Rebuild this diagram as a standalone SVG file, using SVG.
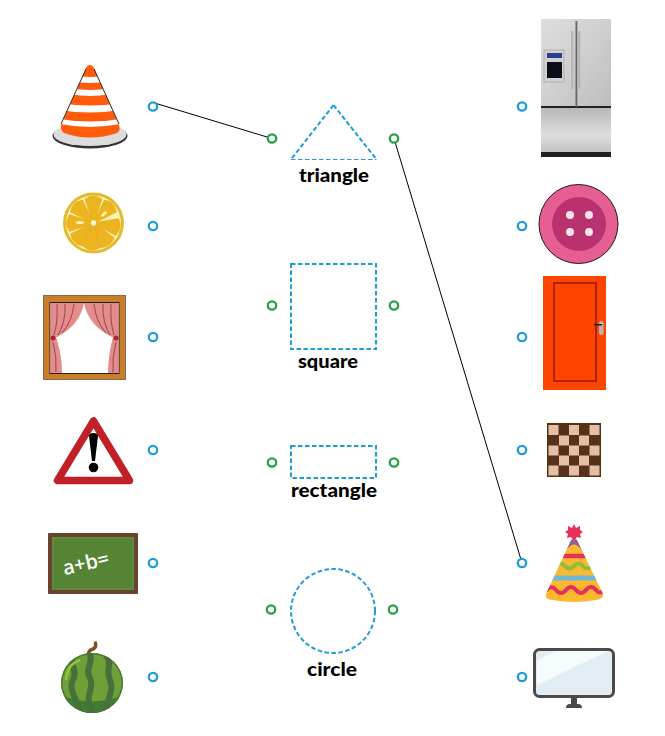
<svg xmlns="http://www.w3.org/2000/svg" width="665" height="736" viewBox="0 0 665 736">
<style>
.b{fill:#fff;stroke:#1f9cd8;stroke-width:2.300}
.g{fill:#fff;stroke:#27a04a;stroke-width:2.300}
.sh{fill:none;stroke:#1f9cd8;stroke-width:2;stroke-dasharray:4.500 2.500}
.lb{font-family:"Lato","Noto Sans",sans-serif;font-weight:900;font-size:18.500px;fill:#000;text-anchor:middle}
.cn{stroke:#000;stroke-width:1;fill:none}
</style>
<defs>
<linearGradient id="steel" x1="0" y1="0" x2="1" y2="1"><stop offset="0" stop-color="#dedede"/><stop offset=".5" stop-color="#cfcfcf"/><stop offset="1" stop-color="#bdbdbd"/></linearGradient>
<linearGradient id="steel2" x1="0" y1="0" x2="0" y2="1"><stop offset="0" stop-color="#b8b8b8"/><stop offset=".6" stop-color="#dedede"/><stop offset="1" stop-color="#c0c0c0"/></linearGradient>
<clipPath id="coneC"><path d="M90 65C87 65 86 68 85 70L61 125Q60 130 64 133Q90 142 117 133Q121 130 119 125L95 70C94 68 93 65 90 65Z"/></clipPath>
<clipPath id="melonC"><ellipse cx="92" cy="683" rx="31" ry="30"/></clipPath>
<clipPath id="hatC"><path d="M574 534L603 594Q604 599 596 600Q574 604 552 600Q544 599 546 594Z"/></clipPath>
</defs>

<g id="cone">
<ellipse cx="90" cy="136" rx="37.500" ry="12.500" fill="#333"/>
<ellipse cx="90" cy="134.500" rx="36.500" ry="11.500" fill="#dcdcdc"/>
<path d="M90 65C87 65 86 68 85 70L61 125Q60 130 64 133Q90 142 117 133Q121 130 119 125L95 70C94 68 93 65 90 65Z" fill="#ff5b0a"/>
<g clip-path="url(#coneC)" fill="#fff">
<path d="M70 75Q90 79 110 75L110 81Q90 85 70 81Z"/>
<path d="M70 88Q90 92 110 88L110 94Q90 98 70 94Z"/>
<path d="M60 103Q90 108 120 103L120 110Q90 115 60 110Z"/>
<path d="M55 118Q90 125 125 118L125 123Q90 131 55 123Z"/>
</g>
<path d="M86 69L61 124M94 69L119 124" stroke="#3a2a20" stroke-width="1" fill="none"/>
</g>

<g id="lemon">
<circle cx="93.500" cy="223" r="30.500" fill="#e2bb2c"/>
<circle cx="93.500" cy="223" r="27.500" fill="#fdf2b0"/>
<g fill="#ecb520" stroke="#d9a51c" stroke-width=".5">
<path d="M92 220L85 199Q93 193 102 199L95 220Z"/>
<path d="M92 220L85 199Q93 193 102 199L95 220Z" transform="rotate(45 93.500 223)"/>
<path d="M92 220L85 199Q93 193 102 199L95 220Z" transform="rotate(100 93.500 223)"/>
<path d="M92 220L85 199Q93 193 102 199L95 220Z" transform="rotate(145 93.500 223)"/>
<path d="M92 220L85 199Q93 193 102 199L95 220Z" transform="rotate(185 93.500 223)"/>
<path d="M92 220L85 199Q93 193 102 199L95 220Z" transform="rotate(225 93.500 223)"/>
<path d="M92 220L85 199Q93 193 102 199L95 220Z" transform="rotate(270 93.500 223)"/>
<path d="M92 220L85 199Q93 193 102 199L95 220Z" transform="rotate(315 93.500 223)"/>
</g>
<circle cx="93.500" cy="223" r="2.500" fill="#fdf6c8"/>
<ellipse cx="80" cy="222.500" rx="4" ry="1.500" fill="#fdf2b0"/>
<ellipse cx="104" cy="214" rx="3.500" ry="1.500" fill="#fdf2b0" transform="rotate(-40 104 214)"/>
</g>

<g id="curtain">
<rect x="43.500" y="295.500" width="82" height="84" fill="#c97f2a" stroke="#8a6a4a" stroke-width="1"/>
<rect x="50" y="302.500" width="69" height="71" fill="#fff" stroke="#222" stroke-width="1"/>
<path d="M50.500 303H84Q80 325 57 337L50.500 337Z" fill="#e58b8b"/>
<path d="M118.500 303H84Q88 325 112 337L118.500 337Z" fill="#e58b8b"/>
<path d="M50.500 337H56Q62 355 62 373H50.500Z" fill="#e58b8b"/>
<path d="M118.500 337H113Q108 355 108 373H118.500Z" fill="#e58b8b"/>
<path d="M57 304Q58 322 54 335M65 304Q66 322 58 335M74 304Q72 322 62 333M111 304Q110 322 114 335M103 304Q102 322 110 335M94 304Q96 322 106 333M53 342Q57 358 56 372M116 342Q112 358 113 372" stroke="#6e2a30" stroke-width=".7" fill="none"/>
<circle cx="53" cy="338" r="2.500" fill="#b3242c"/>
<circle cx="116" cy="338" r="2.500" fill="#b3242c"/>
</g>

<g id="warning">
<path d="M93.500 421L57.500 480.500H129.500Z" fill="#fff" stroke="#c12126" stroke-width="7.500" stroke-linejoin="round"/>
<path d="M89 436Q89 433 93.500 433Q98 433 98 436L95 461H92Z" fill="#000"/>
<circle cx="93.500" cy="467.500" r="4.800" fill="#000"/>
</g>

<g id="board">
<rect x="48" y="533" width="90" height="61" rx="1" fill="#6a4330"/>
<rect x="52" y="537" width="82" height="53" fill="#5f8c3a"/>
<rect x="54" y="539" width="78" height="49" fill="#568435"/>
<text x="86" y="570" font-family="'Open Sans',sans-serif" font-weight="600" font-size="20" fill="#fff" text-anchor="middle" transform="rotate(-13 86 564)">a+b=</text>
</g>

<g id="watermelon">
<path d="M88 657C88 651 90 650 93 649C96 648 96 646 95.500 643" fill="none" stroke="#7b5230" stroke-width="3.500" stroke-linecap="round"/>
<ellipse cx="92" cy="683" rx="31" ry="30" fill="#6ea038"/>
<g clip-path="url(#melonC)">
<path d="M61 695Q92 708 123 695V716H61Z" fill="#3f7d35"/>
<ellipse cx="92" cy="683" rx="31" ry="30" fill="none" stroke="#4b7a33" stroke-width="3"/>
<g fill="none" stroke="#47703a" stroke-width="6">
<path d="M89 653C95 662 84 668 90 678C95 688 85 695 90 705C92 709 90 712 90 716"/>
<path d="M106 655C113 665 105 670 110 680C114 690 108 698 104 716"/>
<path d="M72 656C70 665 78 670 73 680C68 688 76 698 82 716"/>
</g>
<path d="M66 680C67 668 72 663 80 660" fill="none" stroke="#98c13e" stroke-width="2.500"/>
</g>
</g>

<g id="fridge">
<rect x="541" y="19" width="70" height="88" fill="url(#steel)"/>
<rect x="541" y="108" width="70" height="45" fill="url(#steel2)"/>
<rect x="541" y="106" width="70" height="2" fill="#222"/>
<rect x="575.500" y="21" width="1.800" height="86" fill="#666"/>
<rect x="571" y="31" width="2.500" height="58" fill="#b8b8b8"/>
<rect x="578" y="31" width="2.500" height="58" fill="#b8b8b8"/>
<rect x="546" y="111" width="59" height="3" fill="#bcbcbc"/>
<rect x="544" y="50" width="20" height="32" fill="#d0d0d0" stroke="#999" stroke-width=".6"/>
<rect x="547" y="53" width="15" height="5" fill="#2a3f8f"/>
<rect x="547" y="62" width="15" height="16" fill="#0b0d18"/>
<rect x="541" y="152" width="70" height="5" fill="#1f1f1f"/>
</g>

<g id="button">
<circle cx="578.500" cy="224" r="39.500" fill="#e55f92" stroke="#2a1020" stroke-width="1"/>
<circle cx="579" cy="224" r="27" fill="#b9326f"/>
<g fill="#fbe3ec"><circle cx="570" cy="215" r="4"/><circle cx="589" cy="215" r="4"/><circle cx="570" cy="232" r="4"/><circle cx="589" cy="232" r="4"/></g>
</g>

<g id="door">
<rect x="543" y="276" width="63" height="114" fill="#ff4400"/>
<rect x="554" y="283" width="42" height="98" fill="none" stroke="#a8200c" stroke-width="1.800"/>
<rect x="599" y="321" width="4.500" height="14" rx="2" fill="#b5b5b5"/>
<rect x="594" y="324" width="8" height="1.500" fill="#222"/>
</g>

<g id="chess">
<rect x="547" y="423" width="54" height="54" fill="#553216"/>
<g fill="#e2bfa6">
<rect x="548.500" y="425" width="10" height="10"/><rect x="569" y="425" width="10" height="10"/><rect x="589.500" y="425" width="10" height="10"/>
<rect x="559" y="435.500" width="10" height="10"/><rect x="579" y="435.500" width="10" height="10"/>
<rect x="548.500" y="445.500" width="10" height="10"/><rect x="569" y="445.500" width="10" height="10"/><rect x="589.500" y="445.500" width="10" height="10"/>
<rect x="559" y="455.500" width="10" height="10"/><rect x="579" y="455.500" width="10" height="10"/>
<rect x="548.500" y="465.500" width="10" height="10"/><rect x="569" y="465.500" width="10" height="10"/><rect x="589.500" y="465.500" width="10" height="10"/>
</g>
</g>

<g id="hat">
<path d="M574 534L603 594Q604 599 596 600Q574 604 552 600Q544 599 546 594Z" fill="#fdb92e"/>
<g clip-path="url(#hatC)" fill="none">
<path d="M564 549Q574 535 584 549" stroke="#8a5fa8" stroke-width="5"/>
<path d="M560 556H588" stroke="#e5305e" stroke-width="4.500"/>
<path d="M556 566Q561 561 565 566T574 566T583 566T592 566" stroke="#8fbc3c" stroke-width="4"/>
<path d="M550 578H598" stroke="#6db8d8" stroke-width="5"/>
<path d="M546 591Q551 584 556 590T566 590T576 590T586 590T596 590T604 588" stroke="#e5305e" stroke-width="4"/>
</g>
<path d="M574 524L576 528L580 526L580 530L583 532L580 534L581 538L577 537L574 541L571 537L567 538L568 534L565 532L568 530L568 526L572 528Z" fill="#e5305e"/>
</g>

<g id="monitor">
<rect x="534.500" y="649.500" width="79" height="47" rx="5" fill="#e2edf3" stroke="#4a4a4a" stroke-width="3"/>
<path d="M537 660V685L608 651H555Z" fill="#f6fbfd"/>
<rect x="571" y="698" width="6" height="6" fill="#4a4a4a"/>
<path d="M566 708Q566 704 570 704H578Q582 704 582 708Z" fill="#4a4a4a"/>
</g>

<g id="triangle"><path class="sh" d="M333.500 105L376.500 159.500"/><path class="sh" d="M333.500 105L291 159.500"/><path class="sh" d="M291 159.500H376.500" style="stroke-width:1"/><text class="lb" x="334" y="181.500" textLength="70" lengthAdjust="spacingAndGlyphs">triangle</text></g>
<g id="square"><rect class="sh" x="291" y="264" width="85" height="85"/><text class="lb" x="328" y="367.500" textLength="60" lengthAdjust="spacingAndGlyphs">square</text></g>
<g id="rectangle"><rect class="sh" x="291" y="446" width="85" height="32"/><text class="lb" x="334" y="496.500" textLength="86" lengthAdjust="spacingAndGlyphs">rectangle</text></g>
<g id="circle"><circle class="sh" cx="333" cy="611" r="42"/><text class="lb" x="332" y="675.500" textLength="50" lengthAdjust="spacingAndGlyphs">circle</text></g>

<g id="connectors">
<line class="cn" x1="153" y1="102.500" x2="272" y2="138.500"/>
<line class="cn" x1="394" y1="138.500" x2="522" y2="563"/>
</g>

<g id="ports">
<circle class="b" cx="153" cy="106.500" r="4.200"/><circle class="b" cx="153" cy="226" r="4.200"/><circle class="b" cx="153" cy="337" r="4.200"/><circle class="b" cx="153" cy="450" r="4.200"/><circle class="b" cx="153" cy="563" r="4.200"/><circle class="b" cx="153" cy="677" r="4.200"/>
<circle class="b" cx="522" cy="106.500" r="4.200"/><circle class="b" cx="522" cy="226" r="4.200"/><circle class="b" cx="522" cy="337" r="4.200"/><circle class="b" cx="522" cy="450" r="4.200"/><circle class="b" cx="522" cy="563" r="4.200"/><circle class="b" cx="522" cy="677" r="4.200"/>
<circle class="g" cx="272" cy="138.500" r="4.200"/><circle class="g" cx="272" cy="305.500" r="4.200"/><circle class="g" cx="272" cy="462.500" r="4.200"/><circle class="g" cx="271" cy="609.500" r="4.200"/>
<circle class="g" cx="394" cy="138.500" r="4.200"/><circle class="g" cx="394" cy="305.500" r="4.200"/><circle class="g" cx="394" cy="462.500" r="4.200"/><circle class="g" cx="393" cy="609.500" r="4.200"/>
</g>
</svg>
